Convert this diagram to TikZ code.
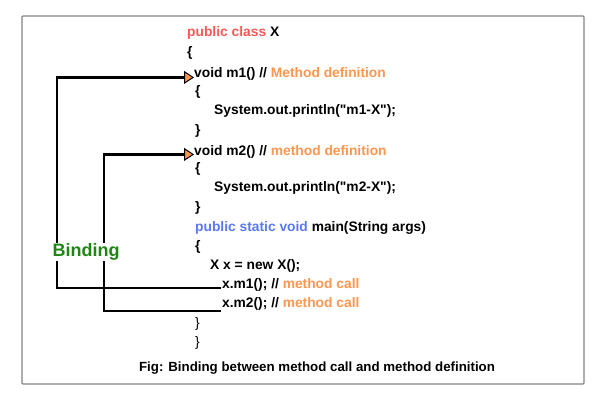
\documentclass[tikz,border=0pt]{standalone}
\usepackage{fontspec}
\setmainfont{Liberation Sans}[Ligatures=TeXOff]
\usetikzlibrary{arrows.meta}
\definecolor{kwred}{RGB}{250,88,88}
\definecolor{cmorange}{RGB}{255,150,80}
\definecolor{kwblue}{RGB}{92,120,240}
\definecolor{bindgreen}{RGB}{30,135,20}
\definecolor{framegray}{RGB}{130,130,130}
\tikzset{
  code/.style={anchor=base west, inner sep=0pt, font=\fontsize{13.8}{16}\selectfont\bfseries},
  plain/.style={anchor=base west, inner sep=0pt, font=\fontsize{13.8}{16}\selectfont},
  bind/.style={line width=2.2pt, -{Triangle[length=10pt,width=13pt,fill=cmorange,line width=1pt]}},
}
\begin{document}
\begin{tikzpicture}[x=1pt,y=-1pt]
\useasboundingbox (0,0) rectangle (600,400);
\draw[framegray, line width=1.3pt, rounded corners=1pt] (22,16) rectangle (584,384);
% code lines
\node[code] (l1) at (187,36) {\textcolor{kwred}{public class} X};
\node[code] (l2) at (187,56) {\{};
\node[code] (d1) at (194,77) {void m1() // \textcolor{cmorange}{Method definition}};
\node[code] (l4) at (195,95) {\{};
\node[code] (l5) at (214,114) {System.out.println("m1-X");};
\node[code] (l6) at (195,134) {\}};
\node[code] (d2) at (194,155) {void m2() // \textcolor{cmorange}{method definition}};
\node[code] (l8) at (195,172) {\{};
\node[code] (l9) at (214,191) {System.out.println("m2-X");};
\node[code] (l10) at (195,211) {\}};
\node[code] (l11) at (195,231) {\textcolor{kwblue}{public static void} main(String args)};
\node[code] (l12) at (195,250) {\{};
\node[code] (l13) at (210,269) {X x = new X();};
\node[code] (c1) at (222,288) {x.m1(); // \textcolor{cmorange}{method call}};
\node[code] (c2) at (222,307) {x.m2(); // \textcolor{cmorange}{method call}};
\node[plain] (l16) at (195,327) {\}};
\node[plain] (l17) at (195,346) {\}};
% connectors
\coordinate (e1) at ([shift={(-1pt,0pt)}]c1.base west);
\coordinate (e2) at ([shift={(-1pt,-4pt)}]c2.base west);
\draw[bind] (e1) -- (e1 -| 57,0) |- ([yshift=-4pt]d1.west);
\draw[bind] (e2) -- (e2 -| 104,0) |- ([yshift=-3pt]d2.west);
% label
\node[fill=white, inner sep=1pt, text=bindgreen, font=\fontsize{18}{20}\selectfont\bfseries] (bl) at (86,252) {Binding};
% caption
\node[anchor=base, inner sep=0pt, font=\fontsize{13.3}{15}\selectfont\bfseries] (cap) at (317,371) {Fig: Binding between method call and method definition};
\end{tikzpicture}
\end{document}
